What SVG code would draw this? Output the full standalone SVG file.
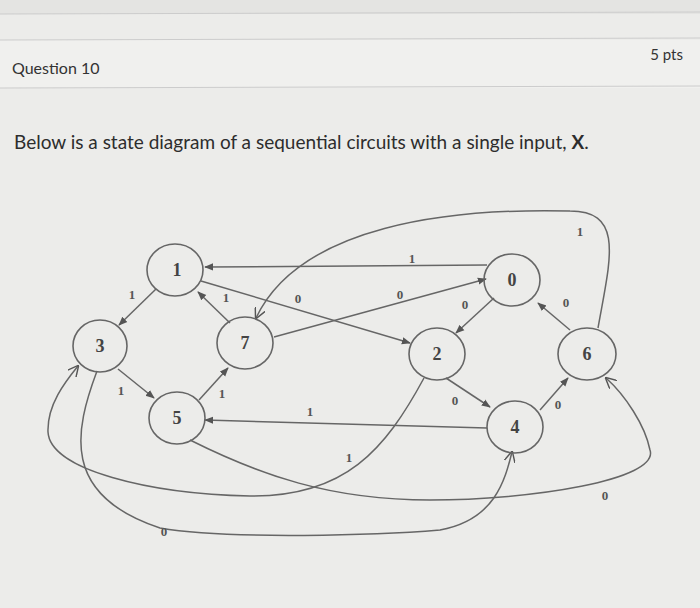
<svg xmlns="http://www.w3.org/2000/svg" width="700" height="608" viewBox="0 0 700 608">
<style>
.n{fill:none;stroke:#666;stroke-width:1.6}
.l{font-family:"Liberation Serif",serif;font-weight:bold;fill:#555;font-size:13px;text-anchor:middle}
.t{font-family:"Liberation Serif",serif;font-weight:bold;fill:#444;font-size:18px;text-anchor:middle}
.e{fill:none;stroke:#666;stroke-width:1.5}
.f{marker-end:url(#a)}
.o{marker-end:url(#b)}
</style>
<defs>
<marker id="a" viewBox="0 0 10 10" refX="9" refY="5" markerWidth="9" markerHeight="9" orient="auto" markerUnits="userSpaceOnUse"><path d="M0,1L10,5L0,9z" fill="#555"/></marker>
<marker id="b" viewBox="0 0 10 10" refX="9" refY="5" markerWidth="11" markerHeight="11" orient="auto" markerUnits="userSpaceOnUse"><path d="M0,0L10,5L0,10" fill="none" stroke="#555" stroke-width="1.3"/></marker>
</defs>
<rect width="700" height="608" fill="#ececea"/>
<rect x="0" y="0" width="700" height="14" fill="#e4e4e2"/>
<line x1="0" y1="14" x2="700" y2="12" stroke="#ccc"/>
<rect x="0" y="40" width="700" height="48" fill="#f0f0ee"/>
<line x1="0" y1="40" x2="700" y2="38" stroke="#ccc"/>
<line x1="0" y1="88" x2="700" y2="86" stroke="#ccc"/>
<text x="12" y="74" font-family="Lato,sans-serif" font-size="16" fill="#333">Question 10</text>
<text x="683" y="60" font-family="Lato,sans-serif" font-size="15" fill="#333" text-anchor="end">5 pts</text>
<text x="14" y="149" font-family="Lato,sans-serif" font-size="19" fill="#2d2d2d">Below is a state diagram of a sequential circuits with a single input, <tspan font-weight="bold">X</tspan>.</text>
<g id="connectors">
<line class="e f" x1="156" y1="289" x2="119" y2="325"/>
<line class="e f" x1="118" y1="369" x2="154" y2="398"/>
<line class="e f" x1="199" y1="400" x2="228" y2="368"/>
<line class="e f" x1="230" y1="323" x2="198" y2="292"/>
<line class="e f" x1="487" y1="265" x2="205" y2="267"/>
<line class="e f" x1="274" y1="337" x2="486" y2="279"/>
<line class="e f" x1="201" y1="281" x2="410" y2="343"/>
<line class="e f" x1="494" y1="298" x2="456" y2="333"/>
<line class="e f" x1="446" y1="378" x2="490" y2="407"/>
<line class="e f" x1="540" y1="410" x2="568" y2="378"/>
<line class="e f" x1="570" y1="330" x2="538" y2="303"/>
<line class="e f" x1="487" y1="428" x2="205" y2="420"/>
<path class="e o" d="M598,328 C610,260 625,211 570,211 C450,208 300,225 256,318"/>
<path class="e o" d="M424,378 C385,450 345,497 250,496 C150,494 50,470 48,432 C47,405 65,382 78,366"/>
<path class="e o" d="M190,440 C260,475 330,500 430,500 C530,500 660,480 650,450 C645,425 625,395 606,378"/>
<path class="e o" d="M97,371 C75,430 60,495 160,528 C230,540 380,535 440,530 C495,520 505,480 512,452"/>
</g>
<g class="l">
<text x="132" y="299">1</text>
<text x="121" y="395">1</text>
<text x="222" y="398">1</text>
<text x="226" y="302">1</text>
<text x="412" y="263">1</text>
<text x="400" y="299">0</text>
<text x="298" y="303">0</text>
<text x="465" y="309">0</text>
<text x="455" y="405">0</text>
<text x="558" y="409">0</text>
<text x="566" y="307">0</text>
<text x="580" y="236">1</text>
<text x="310" y="416">1</text>
<text x="349" y="462">1</text>
<text x="605" y="500">0</text>
<text x="164" y="536">0</text>
</g>
<g id="node1"><ellipse class="n" cx="175" cy="270" rx="28" ry="26"/><text class="t" x="177" y="276">1</text></g>
<g id="node3"><ellipse class="n" cx="100" cy="346" rx="27" ry="26"/><text class="t" x="100" y="352">3</text></g>
<g id="node7"><ellipse class="n" cx="245" cy="343" rx="28" ry="26"/><text class="t" x="245" y="349">7</text></g>
<g id="node5"><ellipse class="n" cx="177" cy="418" rx="28" ry="26"/><text class="t" x="177" y="424">5</text></g>
<g id="node0"><ellipse class="n" cx="512" cy="280" rx="28" ry="26"/><text class="t" x="512" y="286">0</text></g>
<g id="node2"><ellipse class="n" cx="437" cy="354" rx="28" ry="26"/><text class="t" x="437" y="360">2</text></g>
<g id="node6"><ellipse class="n" cx="587" cy="354" rx="29" ry="26"/><text class="t" x="587" y="360">6</text></g>
<g id="node4"><ellipse class="n" cx="515" cy="427" rx="28" ry="26"/><text class="t" x="515" y="433">4</text></g>
</svg>
